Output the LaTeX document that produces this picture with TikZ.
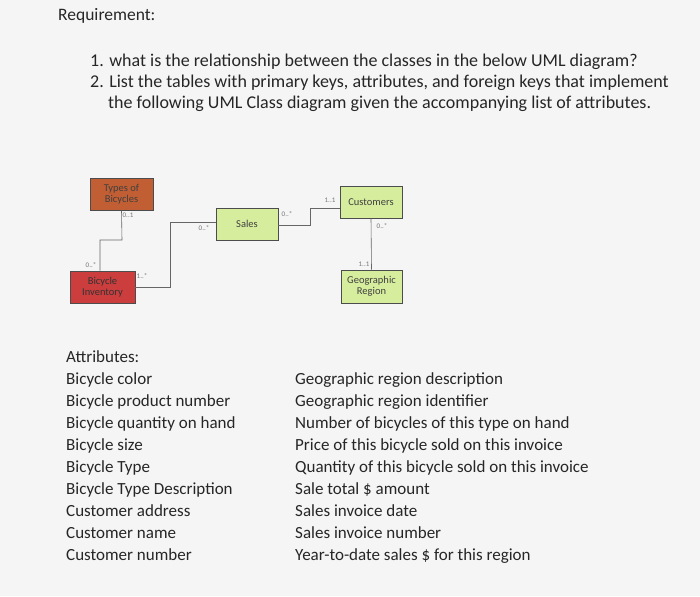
\documentclass[tikz,border=0pt]{standalone}
\usepackage{fontspec}
\setmainfont{Carlito}
\begin{document}
\begin{tikzpicture}[x=1pt,y=-1pt,
  txt/.style={anchor=base west,inner sep=0,font=\fontsize{17}{19}\selectfont,text=black!85},
  qtxt/.style={txt,font=\fontsize{18}{20}\selectfont},
  cls/.style={draw=black!70,line width=0.6pt,minimum width=62pt,minimum height=32pt,inner sep=1pt,align=center,font=\fontsize{10.5}{11}\selectfont},
  mult/.style={font=\fontsize{7}{8}\selectfont,text=black!55,inner sep=1pt},
  conn/.style={draw=black!60,line width=0.6pt}]
\fill[black!4] (0,0) rectangle (700,596);
\useasboundingbox (0,0) rectangle (700,596);
\node[txt,font=\fontsize{17.5}{19}\selectfont] (req) at (58,21) {Requirement:};
\node[qtxt] (q1) at (90,67) {1. what is the relationship between the classes in the below UML diagram?};
\node[qtxt] (q2) at (90,88) {2. List the tables with primary keys, attributes, and foreign keys that implement};
\node[qtxt] (q3) at (108,109) {the following UML Class diagram given the accompanying list of attributes.};
% classes
\node[cls,fill=orange!60!red!70!black!80,text=black!75,minimum width=63pt] (tb) at (121.5,194) {Types of\\Bicycles};
\node[cls,fill=red!70!white!80!black,text=black!80,minimum width=65pt] (bi) at (102.5,287) {Bicycle\\Inventory};
\node[cls,fill=yellow!60!green!40,text=black!75] (sa) at (247,224) {Sales};
\node[cls,fill=yellow!60!green!40,text=black!75] (cu) at (371,202) {Customers};
\node[cls,fill=yellow!60!green!40,text=black!75,minimum width=61pt,minimum height=33pt] (gr) at (371.5,286.5) {Geographic\\Region};
% connectors
\coordinate (a1) at (122,240); \coordinate (a2) at (100,240);
\draw[conn] (tb.south) -- (a1) -- (a2) -- (a2|-bi.north);
\coordinate (b1) at (170,287); \coordinate (b2) at (170,222);
\draw[conn] (bi.east) -- (b1) -- (b2) -- (b2-|sa.west);
\coordinate (c1) at (310,225); \coordinate (c2) at (310,208);
\draw[conn] (sa.east|-c1) -- (c1) -- (c2) -- (c2-|cu.west);
\draw[conn] (cu.south) -- (gr.north);
% multiplicities
\node[mult] (m1) at (128,215) {0..1};
\node[mult] (m2) at (91,265) {0..*};
\node[mult] (m3) at (142,276) {1..*};
\node[mult] (m4) at (204,228) {0..*};
\node[mult] (m5) at (287,214) {0..*};
\node[mult] (m6) at (330,200) {1..1};
\node[mult] (m7) at (382,226) {0..*};
\node[mult] (m8) at (364,264) {1..1};
% attributes
\node[txt] (at) at (66,362) {Attributes:};
\foreach \t [count=\i] in {Bicycle color,Bicycle product number,Bicycle quantity on hand,Bicycle size,Bicycle Type,Bicycle Type Description,Customer address,Customer name,Customer number}
  \node[txt] (l\i) at (66,362+22*\i) {\t};
\foreach \t [count=\i] in {Geographic region description,Geographic region identifier,Number of bicycles of this type on hand,Price of this bicycle sold on this invoice,Quantity of this bicycle sold on this invoice,Sale total \$ amount,Sales invoice date,Sales invoice number,Year-to-date sales \$ for this region}
  \node[txt] (r\i) at (295,362+22*\i) {\t};
\end{tikzpicture}
\end{document}
